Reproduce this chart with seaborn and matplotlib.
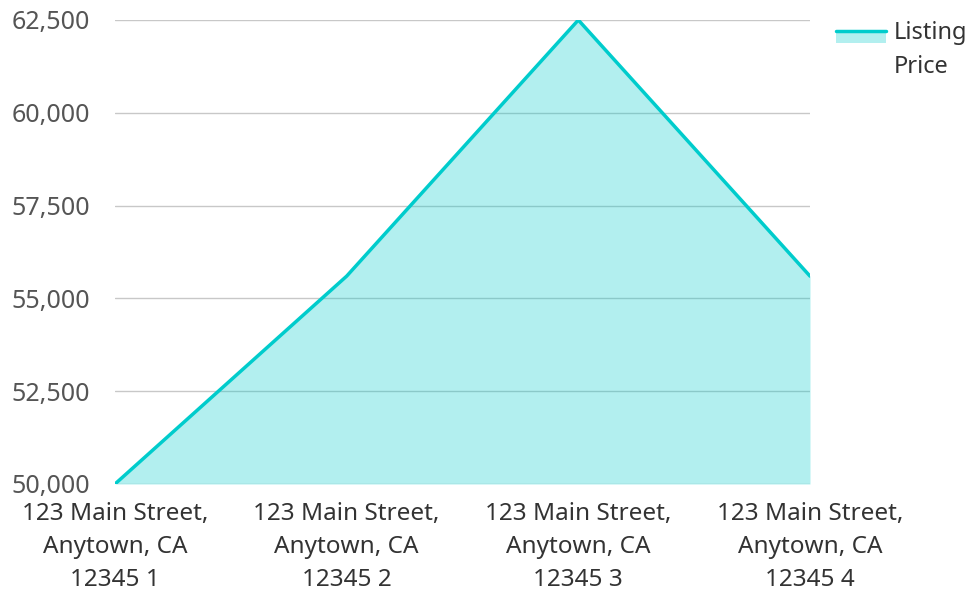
import matplotlib
matplotlib.use("Agg")
import matplotlib.pyplot as plt
import seaborn as sns
import pandas as pd
from matplotlib.legend_handler import HandlerBase
from matplotlib.patches import Rectangle
from matplotlib.lines import Line2D

categories = ["123 Main Street,\nAnytown, CA\n12345 1",
              "123 Main Street,\nAnytown, CA\n12345 2",
              "123 Main Street,\nAnytown, CA\n12345 3",
              "123 Main Street,\nAnytown, CA\n12345 4"]
listing_price = [50000, 55600, 62500, 55600]
y_ticks = [50000, 52500, 55000, 57500, 60000, 62500]
series_name = "Listing\nPrice"

LINE = "#00CCCC"
FILL = "#00CCCC"

sns.set_theme(style="white")
plt.rcParams['font.family'] = ['Noto Sans', 'DejaVu Sans']

df = pd.DataFrame({"x": range(len(categories)), "price": listing_price})

fig = plt.figure(figsize=(9.72, 5.89), dpi=100)
ax = fig.add_axes([115/972, 1-484/589, (810-115)/972, (484-20)/589])

ax.fill_between(df["x"], y_ticks[0], df["price"], color=FILL, alpha=0.3, lw=0, zorder=2)
sns.lineplot(data=df, x="x", y="price", ax=ax, color=LINE, lw=2.5, zorder=3)

ax.set_xlim(0, len(categories)-1)
ax.set_ylim(y_ticks[0], y_ticks[-1])
ax.set_yticks(y_ticks)
ax.set_yticklabels([f"{v:,}" for v in y_ticks])
ax.set_xticks(range(len(categories)))
ax.set_xticklabels(categories, linespacing=1.5)
ax.set_xlabel("")
ax.set_ylabel("")
ax.grid(axis="y", color="#c8c8c8", lw=1, zorder=1)
ax.set_axisbelow(True)
for s in ax.spines.values():
    s.set_visible(False)
ax.tick_params(axis="y", length=0, pad=18, labelsize=18, labelcolor="#555555")
ax.tick_params(axis="x", length=0, pad=13, labelsize=17.5, labelcolor="#333333")

class FillLineHandler(HandlerBase):
    def create_artists(self, legend, orig_handle, xdescent, ydescent, width, height, fontsize, trans):
        top = -ydescent + height * 0.75 + 11
        rect = Rectangle((-xdescent, top - 8.6), width, 8.6, facecolor=FILL, alpha=0.3, lw=0, transform=trans)
        line = Line2D([-xdescent, -xdescent + width], [top] * 2, color=LINE, lw=2.5, transform=trans)
        return [rect, line]

handle = object()
leg = fig.legend([handle], [series_name], handler_map={object: FillLineHandler()},
                 loc="upper left", bbox_to_anchor=(836/972, 1-21/589), frameon=False,
                 fontsize=17, handlelength=2.1, handletextpad=0.35, labelcolor="#333333",
                 borderaxespad=0, borderpad=0)
for t in leg.get_texts():
    t.set_linespacing(1.55)

fig.savefig("out.png", dpi=100)
